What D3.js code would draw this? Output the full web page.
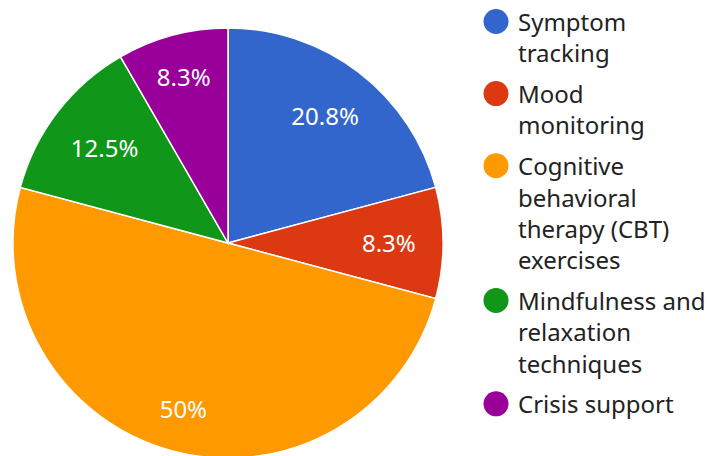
<!DOCTYPE html>
<html>
<head>
<meta charset="utf-8">
<script src="https://cdn.jsdelivr.net/npm/d3@7"></script>
<style>
  html, body { margin: 0; padding: 0; background: #fff; }
  svg { display: block; font-family: "Noto Sans", sans-serif; }
</style>
</head>
<body>
<svg id="chart" width="710" height="456"></svg>
<script>
const categories = [
  'Symptom tracking',
  'Mood monitoring',
  'Cognitive behavioral therapy (CBT) exercises',
  'Mindfulness and relaxation techniques',
  'Crisis support'
];
const values = [5, 2, 12, 3, 2];
const colors = ['#3366cc', '#dc3912', '#ff9900', '#109618', '#990099'];
// legend text as it wraps in the picture
const legendLines = [
  ['Symptom', 'tracking'],
  ['Mood', 'monitoring'],
  ['Cognitive', 'behavioral', 'therapy (CBT)', 'exercises'],
  ['Mindfulness and', 'relaxation', 'techniques'],
  ['Crisis support']
];

const data = categories.map((c, i) => ({ label: c, value: values[i], color: colors[i] }));
const total = d3.sum(values);

const svg = d3.select('#chart');
const cx = 228, cy = 243, radius = 215;

const pie = d3.pie().sort(null).value(d => d.value);
const arc = d3.arc().innerRadius(0).outerRadius(radius);
const arcs = pie(data);

const g = svg.append('g').attr('transform', `translate(${cx},${cy})`);

g.selectAll('path')
  .data(arcs)
  .join('path')
  .attr('d', arc)
  .attr('fill', d => d.data.color)
  .attr('stroke', '#fff')
  .attr('stroke-width', 1.5);

const fmt = v => {
  const p = v / total * 100;
  return (Math.round(p * 10) / 10) + '%';
};

// labels: push along the mid angle until the far corner of the text box
// sits a fixed distance inside the rim
const fitDist = radius - 27;
g.selectAll('text.pct')
  .data(arcs)
  .join('text')
  .attr('class', 'pct')
  .attr('fill', '#fff')
  .attr('font-size', 24)
  .attr('text-anchor', 'middle')
  .text(d => fmt(d.data.value))
  .each(function (d) {
    const w = this.getComputedTextLength();
    const hw = w / 2, hh = 8.5;
    const a = (d.startAngle + d.endAngle) / 2;
    const ux = Math.sin(a), uy = -Math.cos(a);
    const b = Math.abs(ux) * hw + Math.abs(uy) * hh;
    const c = hw * hw + hh * hh - fitDist * fitDist;
    const t = -b + Math.sqrt(b * b - c);
    d3.select(this)
      .attr('x', t * ux)
      .attr('y', t * uy + hh);
  });

// legend
const lineH = 31.3, itemGap = 9.5;
const legend = svg.append('g');
let base = 31;
legendLines.forEach((lines, i) => {
  const item = legend.append('g');
  item.append('circle')
    .attr('cx', 496)
    .attr('cy', base - 9.5)
    .attr('r', 12.5)
    .attr('fill', colors[i]);
  const txt = item.append('text')
    .attr('x', 518)
    .attr('y', base)
    .attr('font-size', 24)
    .attr('fill', '#222');
  lines.forEach((ln, j) => {
    txt.append('tspan')
      .attr('x', 518)
      .attr('y', base + j * lineH)
      .text(ln);
  });
  base += lines.length * lineH + itemGap;
});
</script>
</body>
</html>
